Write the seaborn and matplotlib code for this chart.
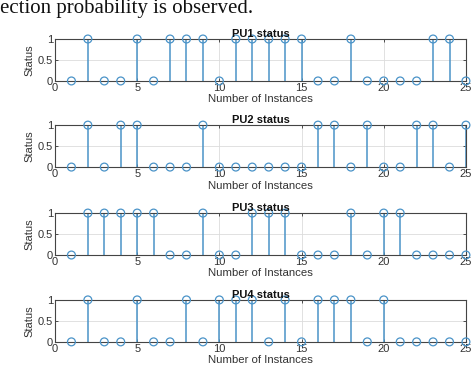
import numpy as np
import pandas as pd
import matplotlib
matplotlib.use("Agg")
import matplotlib.pyplot as plt
import seaborn as sns

# ── Data ───────────────────────────────────────────────────────────────
instances = list(range(1, 26))
pu1 = [0, 1, 0, 0, 1, 0, 1, 1, 1, 0, 1, 1, 1, 1, 1, 0, 0, 1, 0, 0, 0, 0, 1, 1, 0]
pu2 = [0, 1, 0, 1, 1, 0, 0, 0, 1, 0, 0, 0, 0, 0, 0, 1, 1, 0, 1, 0, 0, 1, 1, 0, 1]
pu3 = [0, 1, 1, 1, 1, 1, 0, 0, 1, 0, 0, 1, 1, 1, 0, 0, 0, 1, 0, 1, 1, 0, 0, 0, 0]
pu4 = [0, 1, 0, 0, 1, 0, 0, 1, 0, 1, 1, 1, 0, 1, 0, 1, 1, 1, 0, 1, 0, 0, 0, 0, 0]
titles = ["PU1 status", "PU2 status", "PU3 status", "PU4 status"]
x_ticks = [0, 5, 10, 15, 20, 25]
y_ticks = [0, 0.5, 1]

sns.set_theme(style="white")
plt.rcParams["font.family"] = ["Liberation Sans", "DejaVu Sans"]

blue = "#4a93c8"

fig = plt.figure(figsize=(4.74, 3.68), dpi=100)

# caption fragment from the surrounding page
fig.text(0.001, 0.9655, "ection probability is observed.", ha="left", va="baseline",
         fontsize=15, family=["Liberation Serif", "DejaVu Serif"], color="#111111")

left, width, height = 0.116, 0.867, 0.114
bottoms = [0.780, 0.546, 0.307, 0.071]

for status, title, bottom in zip([pu1, pu2, pu3, pu4], titles, bottoms):
    ax = fig.add_axes([left, bottom, width, height])
    df = pd.DataFrame({"instance": instances, "status": status})

    ax.vlines(df["instance"], 0, df["status"], color=blue, linewidth=1.1, zorder=2)
    sns.scatterplot(data=df, x="instance", y="status", ax=ax, marker="o", s=32,
                    fc="none", ec=blue, linewidth=0.9, clip_on=False, zorder=3)

    ax.set_xlim(0, 25)
    ax.set_ylim(0, 1)
    ax.set_xticks(x_ticks)
    ax.set_yticks(y_ticks)
    ax.set_yticklabels(["0", "0.5", "1"])
    ax.grid(True, color="#dcdcdc", linewidth=0.6, zorder=0)
    ax.set_axisbelow(True)
    ax.tick_params(direction="in", length=2.5, width=0.6, colors="#333333",
                   labelsize=8, pad=1.5, top=True, right=True,
                   bottom=True, left=True)
    for sp in ax.spines.values():
        sp.set_color("#444444")
        sp.set_linewidth(0.8)
    ax.set_title(title, fontsize=8, fontweight="bold", pad=1.5, color="#111111")
    ax.set_xlabel("Number of Instances", fontsize=8.2, labelpad=1, color="#333333")
    ax.set_ylabel("Status", fontsize=8, labelpad=2, color="#333333")

fig.savefig("out.png", dpi=100)
